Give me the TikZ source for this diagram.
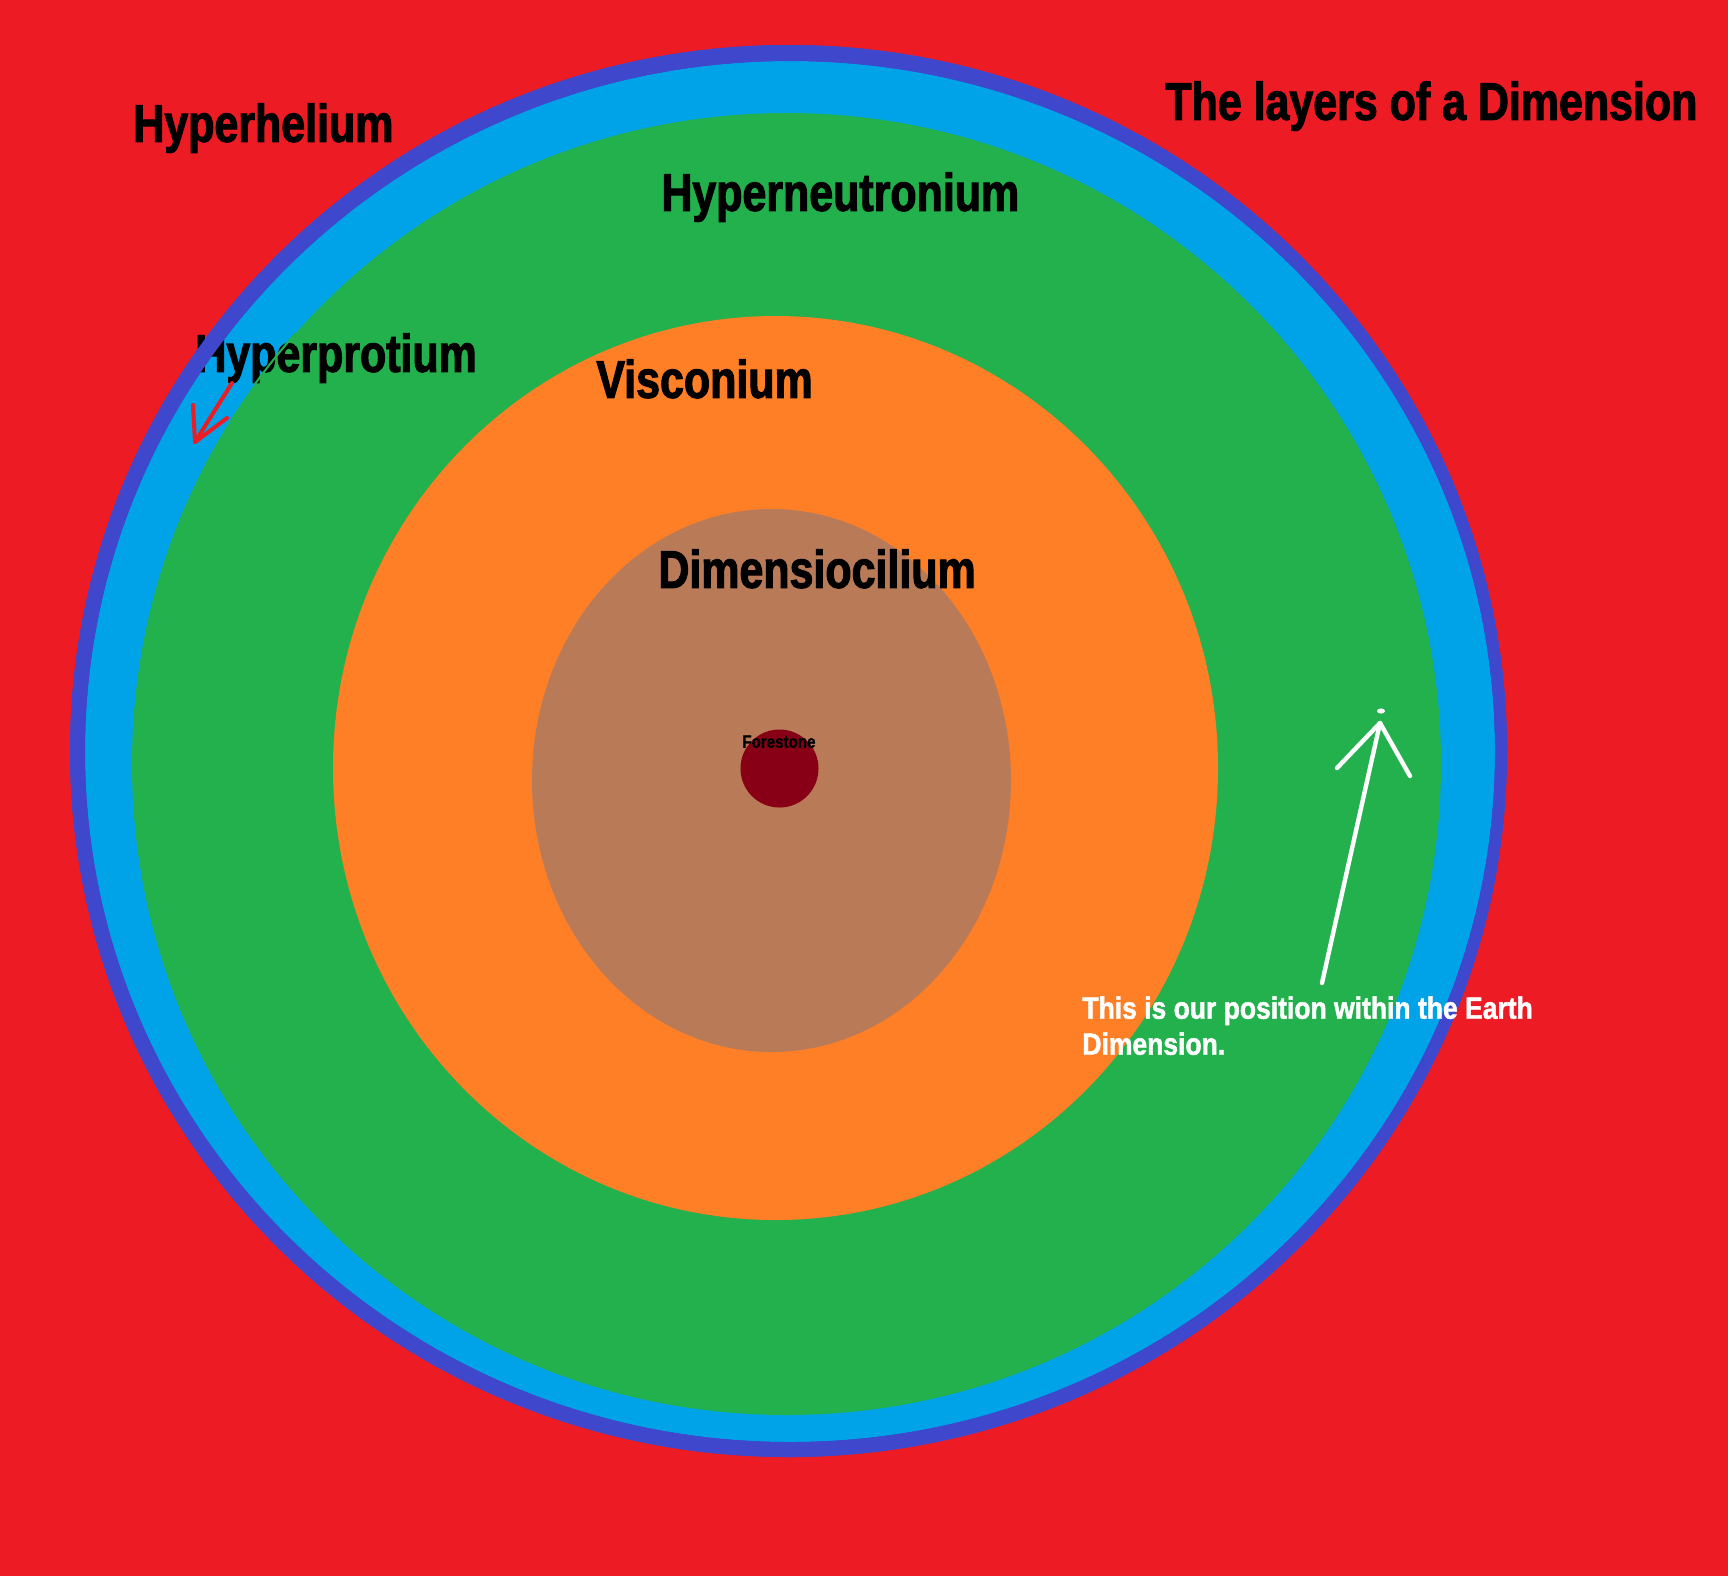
\documentclass[tikz,border=0pt]{standalone}
\usepackage{fontspec}
\setmainfont{Liberation Sans}
\newfontfamily\narrowbold{Liberation Sans}[FakeStretch=0.81,FakeBold=2]
\newfontfamily\notebold{Liberation Sans}[FakeStretch=0.86,FakeBold=1.5]
\newfontfamily\corebold{Liberation Sans}[FakeStretch=0.84,FakeBold=1]
\usetikzlibrary{positioning}
\definecolor{bgred}{HTML}{ED1C24}
\definecolor{rimblue}{HTML}{3F48CC}
\definecolor{skyblue}{HTML}{00A2E8}
\definecolor{layergreen}{HTML}{22B14C}
\definecolor{layerorange}{HTML}{FF7F27}
\definecolor{layerbrown}{HTML}{B97A57}
\definecolor{coredark}{HTML}{880015}

\begin{document}
\begin{tikzpicture}[
  x=0.5pt, y=-0.5pt,
  layer/.style={font=\narrowbold\bfseries\fontsize{26.5}{30}\selectfont,
                anchor=north west, inner sep=0pt},
  corelbl/.style={font=\corebold\bfseries\fontsize{9}{10}\selectfont,
                  anchor=north west, inner sep=0pt},
  note/.style={font=\notebold\bfseries\fontsize{15.4}{18}\selectfont,
               text=white, align=left, anchor=north west, inner sep=0pt},
  pen/.style={line width=2pt, line cap=round, line join=round}
]
% ---- background ----
\fill[bgred] (0,0) rectangle (1728,1576);
% ---- nested layers ----
\fill[rimblue]     (788.5,751)  ellipse [x radius=359.25pt, y radius=353pt];
\fill[skyblue]     (790,751.5)  ellipse [x radius=352.5pt, y radius=345.25pt];
\fill[layergreen]  (786.5,764)  ellipse [x radius=327.25pt, y radius=325.5pt];
\fill[layerorange] (775.5,768)  ellipse [x radius=221.25pt, y radius=226pt];
\fill[layerbrown]  (771.5,780.5) ellipse [x radius=119.75pt, y radius=135.75pt];
\fill[coredark]    (779.5,768.5) circle [radius=19.5pt];
% ---- layer names ----
\node[layer] (hprot) at (195,333) {Hyperprotium};
% rim drawn over the first letter
\fill[rimblue, even odd rule] (788.5,751) ellipse [x radius=359.25pt, y radius=353pt]
                              (790,751.5) ellipse [x radius=352.5pt, y radius=345.25pt];
\begin{scope}
  \clip (hprot.south west) rectangle (hprot.north east);
  \draw[layergreen, line width=1pt] (786.5,764) ellipse [x radius=327.25pt, y radius=325.5pt];
\end{scope}
\node[layer] (title) at (1165,81)  {The layers of a Dimension};
\node[layer] (hhel)  at (133,103)  {Hyperhelium};
\node[layer] (hneu)  at (661,172)  {Hyperneutronium};
\node[layer] (visc)  at (596,359)  {Visconium};
\node[layer] (dimc)  at (658,549)  {Dimensiocilium};
\node[corelbl] (fore) at (742,735) {Forestone};
% ---- red pointer to the thin layer ----
\coordinate (rtail) at (232,383);
\coordinate (rtip)  at (195,442);
\draw[pen, bgred] (rtail) -- (rtip);
\draw[pen, bgred] (193,405) -- (rtip) -- (227,418);
% ---- our position ----
\node[note] (pos) at (1082,996) {This is our position within the Earth\\Dimension.};
\coordinate (wtail) at (1322,983);
\coordinate (wtip)  at (1380,723);
\draw[pen, white, line width=2.2pt] (wtail) -- (wtip);
\draw[pen, white, line width=2.2pt] (1337,768) -- (wtip) -- (1410,776);
\fill[white] (1381,711) ellipse [x radius=2pt, y radius=1.3pt];
\end{tikzpicture}
\end{document}
